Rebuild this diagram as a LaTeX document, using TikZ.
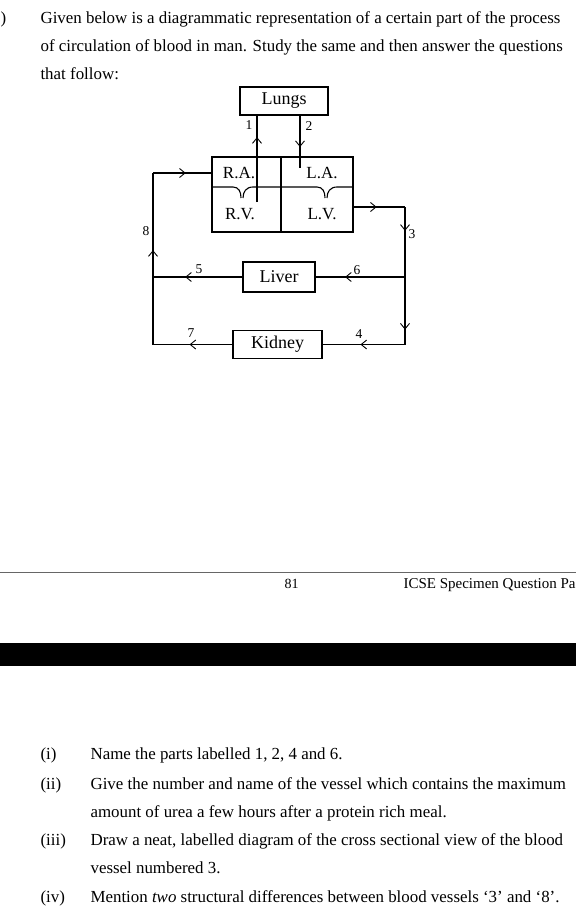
\documentclass[tikz,border=0pt]{standalone}
\usepackage{fontspec}
\setmainfont{Liberation Serif}
\usetikzlibrary{arrows.meta,decorations.markings}
\begin{document}
\begin{tikzpicture}[x=1pt,y=-1pt,line width=1.1pt,
  organ/.style={draw,inner sep=0pt,font=\fontsize{18}{18}\selectfont},
  lbl/.style={inner sep=0pt,font=\fontsize{17}{17}\selectfont},
  num/.style={inner sep=0pt,font=\fontsize{13.5}{13.5}\selectfont},
  txt/.style={anchor=base west,inner sep=0pt,font=\fontsize{16.9}{19}\selectfont},
  para/.style={anchor=base west,inner sep=0pt,font=\fontsize{16.9}{19}\selectfont},
  arr/.style={postaction={decorate},decoration={markings,mark=at position #1 with {\arrow{Straight Barb[length=5.5pt,width=9pt,line width=0.9pt]}}}}]
\useasboundingbox (0,0) rectangle (576,913);
\clip (0,0) rectangle (576,913);

% question text
\node[para,anchor=base west] (qn) at (0,23) {)};
\node[para] (p1) at (40,23) {Given below is a diagrammatic representation of a certain part of the process};
\node[para] (p2) at (40,51) {of circulation of blood in man. Study the same and then answer the questions};
\node[para] (p3) at (40,79) {that follow:};

% organs
\node[organ,minimum width=88pt,minimum height=28pt] (lungs) at (284,101) {Lungs};
\node[draw,inner sep=0pt,minimum width=141pt,minimum height=75pt] (heart) at (282.5,194.5) {};
\node[organ,minimum width=72pt,minimum height=30pt] (liver) at (279,277) {Liver};
\node[organ,minimum width=89pt,minimum height=28pt] (kidney) at (277.5,344.5) {Kidney};

% heart interior
\draw (heart.north -| 281,0) -- (heart.south -| 281,0);
\draw (heart.west |- 0,187) -- (233,187) .. controls (239,187) and (241,192) .. (241,198);
\draw (243,198) .. controls (243,192) and (246,187) .. (253,187) -- (317,187) .. controls (323,187) and (325,192) .. (325,198);
\draw (327,198) .. controls (327,192) and (330,187) .. (337,187) -- (heart.east |- 0,187);
\node[lbl] (ra) at (239,173) {R.A.};
\node[lbl] (la) at (322,173) {L.A.};
\node[lbl] (rv) at (240,214) {R.V.};
\node[lbl] (lv) at (322,214) {L.V.};

% coordinates
\coordinate (v1) at (257,202);
\coordinate (v2) at (300,168);
\coordinate (tl) at (153,173);
\coordinate (bl) at (153,344.5);
\coordinate (ml) at (153,277);
\coordinate (tr) at (405,207);
\coordinate (mr) at (405,277);
\coordinate (br) at (405,344.5);

% pulmonary vessels
\draw[arr=0.75] (v1) -- (v1 |- lungs.south);
\draw[arr=0.6] (v2 |- lungs.south) -- (v2);
\node[num] (n1) at (249,125) {1};
\node[num] (n2) at (309,126) {2};

% vena cava side
\draw[arr=0.54] (kidney.west) -- (bl);
\draw[arr=0.55] (bl) -- (tl);
\draw[arr=0.56] (tl) -- (tl -| heart.west);
\draw[arr=0.64] (liver.west) -- (ml);
\node[num] (n8) at (146,231) {8};
\node[num] (n5) at (199,269) {5};
\node[num] (n7) at (191,333) {7};

% aorta side
\draw[arr=0.45] (heart.east |- tr) -- (tr);
\draw[arr=0.34] (tr) -- (mr);
\draw[arr=0.78] (mr) -- (br);
\draw[arr=0.67] (mr) -- (liver.east);
\draw[arr=0.54] (br) -- (kidney.east);
\node[num] (n3) at (412,234) {3};
\node[num] (n6) at (357,270) {6};
\node[num] (n4) at (359,334) {4};

% footer
\draw[line width=1pt,black!60] (0,572) -- (576,572);
\node[txt,font=\fontsize{14}{14}\selectfont] (pg) at (284,588) {81};
\node[txt,font=\fontsize{15}{15}\selectfont] (ft) at (403,588) {ICSE Specimen Question Pa};
\fill[black] (0,643) rectangle (576,666);

% questions
\node[txt] (r1) at (40,759) {(i)};
\node[txt] (t1) at (90,759) {Name the parts labelled 1, 2, 4 and 6.};
\node[txt] (r2) at (40,789) {(ii)};
\node[txt] (t2) at (90,789) {Give the number and name of the vessel which contains the maximum};
\node[txt] (t2b) at (90,817) {amount of urea a few hours after a protein rich meal.};
\node[txt] (r3) at (40,845) {(iii)};
\node[txt] (t3) at (90,845) {Draw a neat, labelled diagram of the cross sectional view of the blood};
\node[txt] (t3b) at (90,873) {vessel numbered 3.};
\node[txt] (r4) at (40,902) {(iv)};
\node[txt] (t4) at (90,902) {Mention \textit{two} structural differences between blood vessels `3' and `8'.};
\end{tikzpicture}
\end{document}
